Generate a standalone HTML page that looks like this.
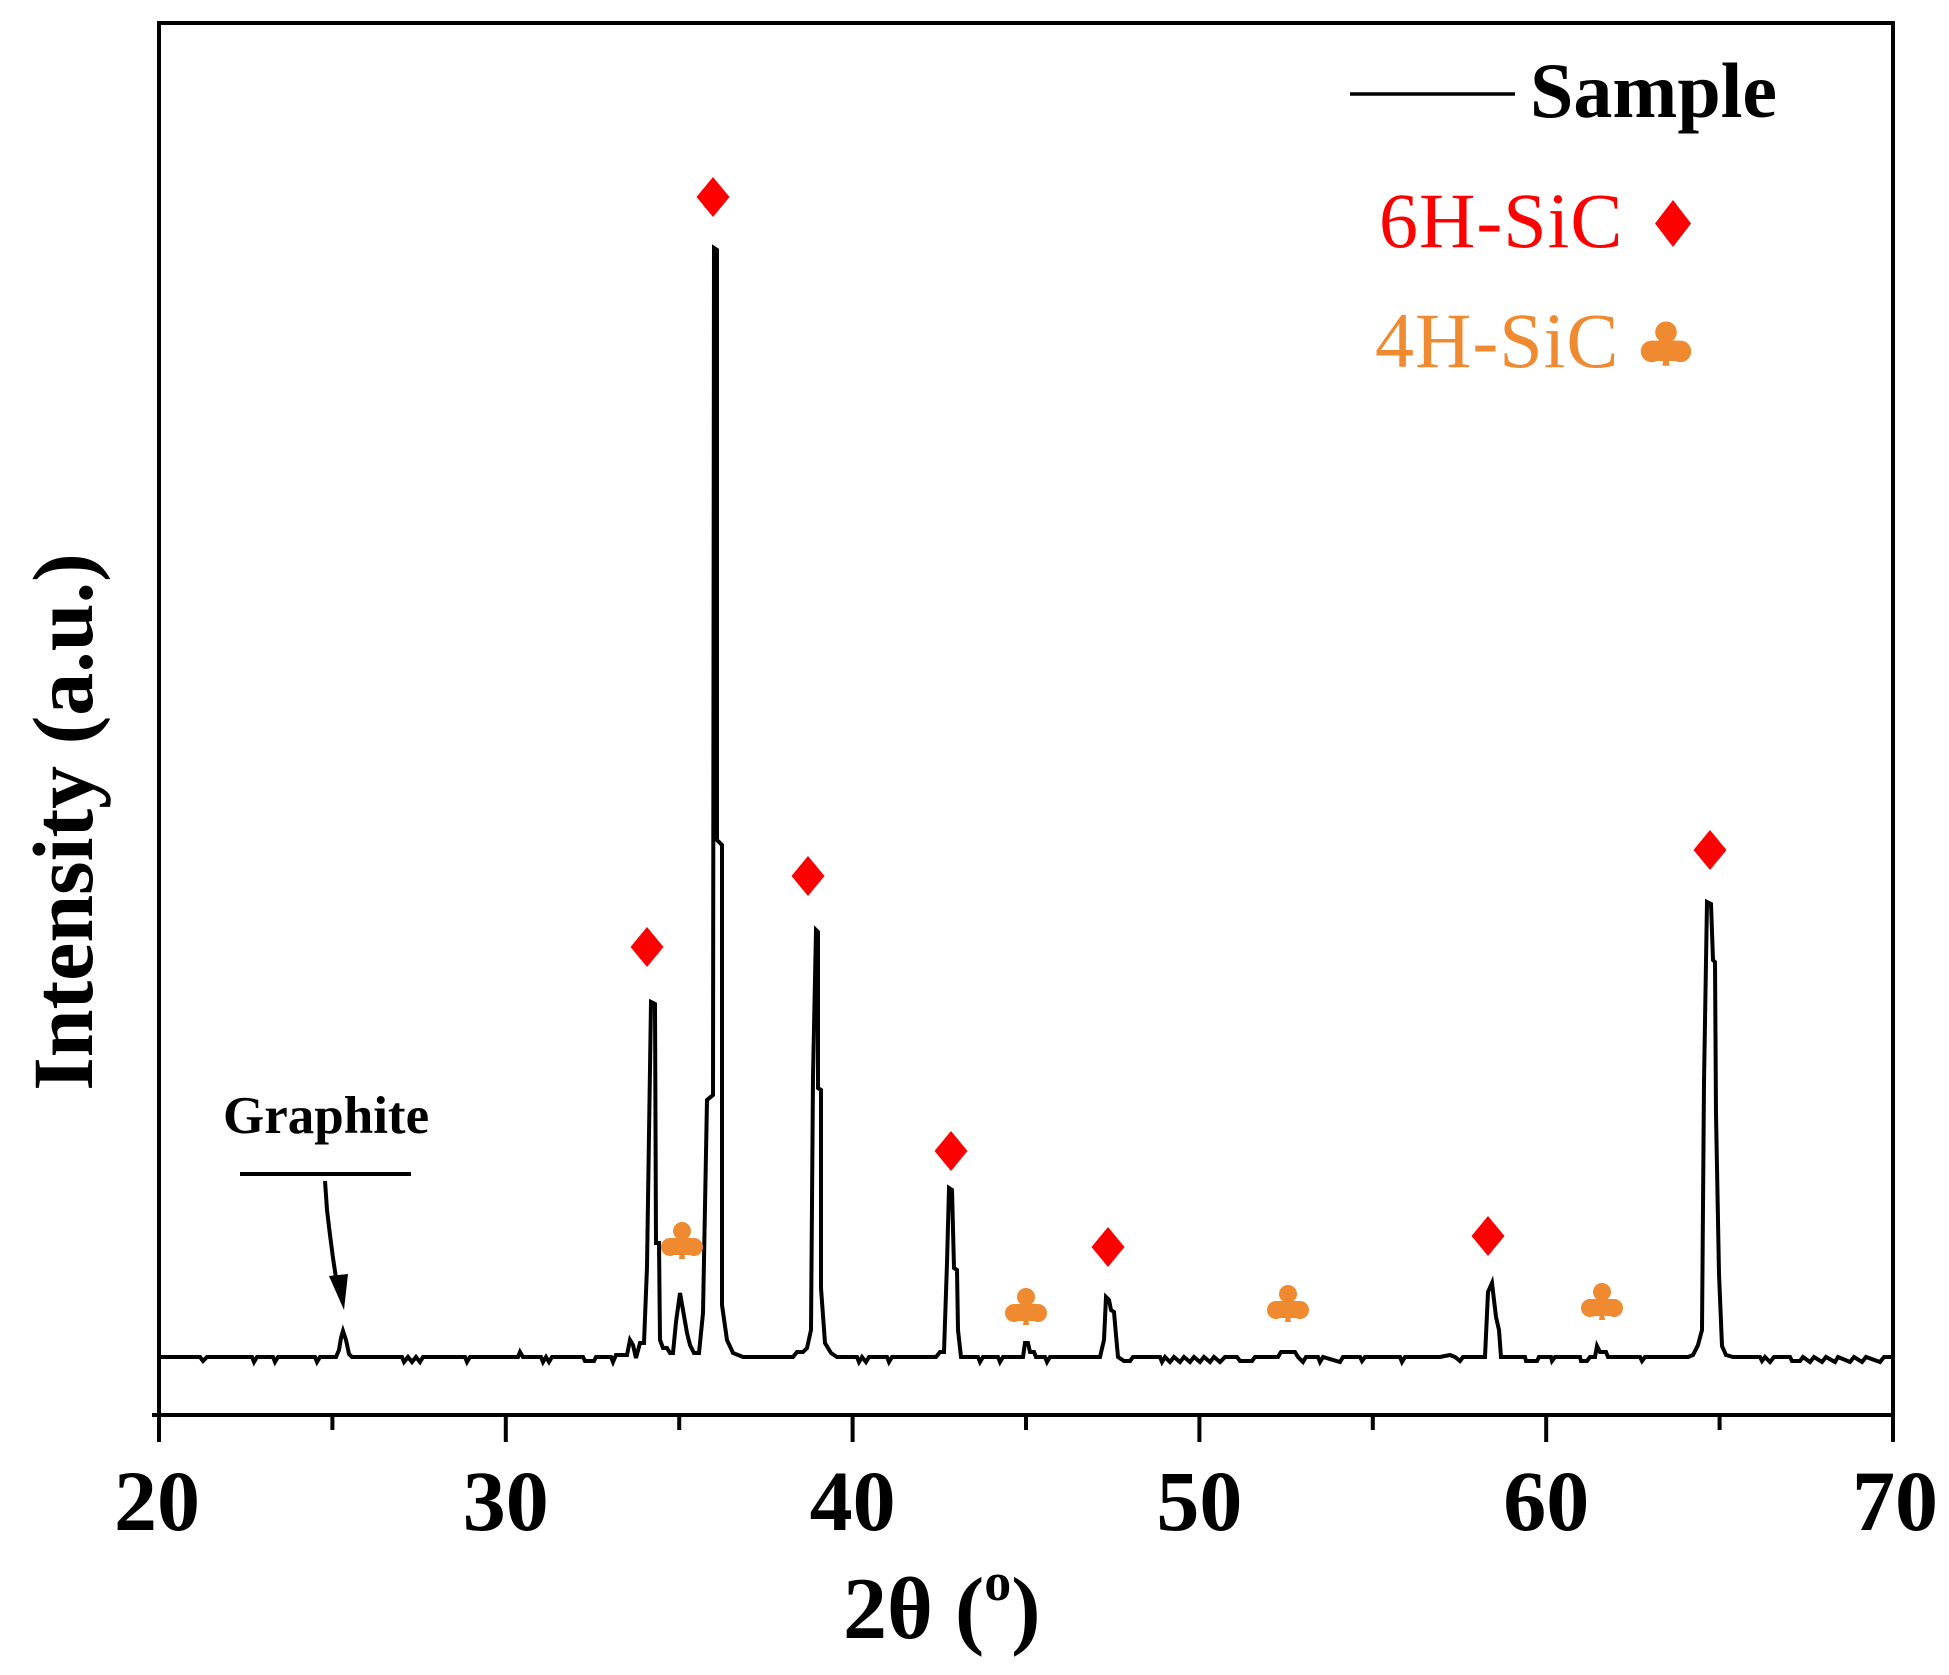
<!DOCTYPE html>
<html>
<head>
<meta charset="utf-8">
<style>
html,body{margin:0;padding:0;background:#fff;}
svg{display:block;}
</style>
</head>
<body>
<svg width="1949" height="1675" viewBox="0 0 1949 1675" xmlns="http://www.w3.org/2000/svg">
<rect x="0" y="0" width="1949" height="1675" fill="#fff"/>

<!-- Data -->
<polyline fill="none" stroke="#000" stroke-width="4" stroke-linejoin="miter" points="
161,1357 200,1357 203,1361 207,1357 252,1357 254,1362 257,1357 273,1357 275,1362 278,1357 315,1357 317,1362 320,1357
336,1357 339,1350 341,1338 343,1331 346,1340 349,1354 352,1357
402,1357 404,1362 408,1357 412,1362 416,1357 420,1362 423,1357 465,1357 467,1362 470,1357 518,1357 520,1352 523,1357
541,1357 543,1362 546,1357 549,1362 552,1357 583,1357 585,1361 594,1361 596,1357 611,1357 613,1362 616,1355 627,1355
630,1340 633,1345 636,1358 640,1343 644,1343 647,1267 651,1002 655,1004 656,1243 659,1243 660,1340 663,1348 667,1348
670,1353 673,1353 676,1322 680,1293 683,1310 687,1333 690,1345 694,1353 699,1353 703,1313 707,1100 713,1095 714,248 717,250
717,840 722,845 722,1305 727,1340 733,1353 743,1357 793,1357 797,1352 803,1352 807,1348 811,1330 813,1077 816,930 818,932
818,1088 821,1090 821,1288 825,1343 831,1353 837,1357 857,1357 859,1362 862,1357 866,1362 869,1357 887,1357 889,1362 892,1357 936,1357
940,1352 944,1352 947,1263 949,1188 952,1190 954,1268 957,1270 958,1330 961,1357 978,1357 980,1362 983,1357 998,1357 1000,1362 1003,1357
1023,1357 1025,1343 1028,1343 1030,1352 1034,1352 1036,1357 1045,1357 1047,1362 1050,1357
1100,1357 1104,1340 1106,1297 1109,1300 1111,1310 1114,1312 1116,1335 1118,1357 1124,1361 1130,1361 1133,1357
1160,1357 1162,1362 1165,1357 1170,1362 1174,1357 1180,1362 1184,1357 1190,1362 1194,1357 1200,1362 1204,1357
1210,1362 1214,1357 1220,1362 1225,1357 1237,1357 1240,1361 1252,1361 1255,1357 1278,1357 1281,1352 1295,1352
1298,1357 1303,1362 1306,1357 1318,1357 1320,1362 1323,1357 1340,1362 1343,1357 1360,1357 1362,1361 1365,1357
1400,1357 1402,1362 1405,1357 1440,1357 1450,1355 1455,1357 1460,1361 1463,1357 1485,1357 1488,1292 1492,1283
1494,1300 1496,1317 1499,1330 1501,1357 1525,1357 1526,1361 1537,1361 1539,1357 1551,1357 1552,1361 1555,1357 1580,1357
1581,1361 1587,1361 1590,1357 1595,1357 1597,1346 1600,1352 1606,1352 1608,1357 1640,1357 1642,1361 1645,1357
1688,1357 1693,1355 1698,1345 1702,1330 1704,1082 1707,902 1711,904 1713,960 1715,962 1716,1114 1719,1274 1722,1346 1726,1355
1733,1357 1760,1357 1762,1361 1765,1357 1770,1362 1774,1357 1790,1357 1792,1361 1800,1361 1803,1357 1810,1362
1814,1357 1822,1362 1826,1357 1835,1362 1838,1357 1850,1362 1854,1357 1862,1362 1866,1357 1880,1362 1884,1357 1891,1357"/>

<!-- Axes frame -->
<rect x="159" y="23" width="1734" height="1392" fill="none" stroke="#000" stroke-width="4"/>

<!-- Ticks -->
<g stroke="#000" stroke-width="4">
  <line x1="159" y1="1415" x2="159" y2="1442"/>
  <line x1="505.8" y1="1415" x2="505.8" y2="1442"/>
  <line x1="852.6" y1="1415" x2="852.6" y2="1442"/>
  <line x1="1199.4" y1="1415" x2="1199.4" y2="1442"/>
  <line x1="1546.2" y1="1415" x2="1546.2" y2="1442"/>
  <line x1="1893" y1="1415" x2="1893" y2="1442"/>
  <line x1="332.4" y1="1415" x2="332.4" y2="1430"/>
  <line x1="679.2" y1="1415" x2="679.2" y2="1430"/>
  <line x1="1026" y1="1415" x2="1026" y2="1430"/>
  <line x1="1372.8" y1="1415" x2="1372.8" y2="1430"/>
  <line x1="1719.6" y1="1415" x2="1719.6" y2="1430"/>
  <line x1="152" y1="1415" x2="159" y2="1415"/>
</g>

<!-- Tick labels -->
<g font-family="'Liberation Serif', serif" font-weight="bold" font-size="86" text-anchor="middle" fill="#000">
  <text x="157" y="1530">20</text>
  <text x="505.8" y="1530">30</text>
  <text x="852.6" y="1530">40</text>
  <text x="1199.4" y="1530">50</text>
  <text x="1546.2" y="1530">60</text>
  <text x="1895" y="1530">70</text>
</g>

<!-- Axis titles -->
<text x="843" y="1638" font-family="'Liberation Serif', serif" font-weight="bold" font-size="88" fill="#000">2θ (<tspan font-size="54" dy="-38">o</tspan><tspan dy="38">)</tspan></text>
<text transform="translate(92,822) rotate(-90)" text-anchor="middle" font-family="'Liberation Serif', serif" font-weight="bold" font-size="86" fill="#000">Intensity (a.u.)</text>

<!-- Graphite annotation -->
<text x="223" y="1133" font-family="'Liberation Serif', serif" font-weight="bold" font-size="53" fill="#000">Graphite</text>
<line x1="240" y1="1174" x2="411" y2="1174" stroke="#000" stroke-width="4"/>
<polyline fill="none" stroke="#000" stroke-width="4" points="325,1181 327,1210 330,1235 333,1258 336,1278"/>
<polygon points="329,1276 348,1274 344,1310" fill="#000"/>

<!-- Diamonds -->
<g fill="#ff0000">
  <polygon points="647,927 663.5,947 647,967 630.5,947"/>
  <polygon points="713,177 729.5,197 713,217 696.5,197"/>
  <polygon points="808,856 824.5,876 808,896 791.5,876"/>
  <polygon points="951,1131 967.5,1151 951,1171 934.5,1151"/>
  <polygon points="1108,1227 1124.5,1247 1108,1267 1091.5,1247"/>
  <polygon points="1488,1216 1504.5,1236 1488,1256 1471.5,1236"/>
  <polygon points="1710,830 1726.5,850 1710,870 1693.5,850"/>
  <polygon points="1673,200 1691,223.5 1673,247 1655,223.5"/>
</g>

<!-- Clubs -->
<defs>
  <g id="club">
    <circle cx="0" cy="-9" r="9"/>
    <circle cx="-12" cy="7" r="9"/>
    <circle cx="12" cy="7" r="9"/>
    <rect x="-12" y="-2" width="24" height="17"/>
    <polygon points="-2,12 2,12 3,19 -3,19"/>
  </g>
</defs>
<g fill="#ef8a31">
  <use href="#club" x="682" y="1240"/>
  <use href="#club" x="1026" y="1306"/>
  <use href="#club" x="1288" y="1303"/>
  <use href="#club" x="1602" y="1301"/>
  <g transform="translate(1666,343) scale(1.2)">
    <circle cx="0" cy="-9" r="9"/>
    <circle cx="-12" cy="7" r="9"/>
    <circle cx="12" cy="7" r="9"/>
    <rect x="-12" y="-2" width="24" height="17"/>
    <polygon points="-2,12 2,12 3,19 -3,19"/>
  </g>
</g>

<!-- Legend -->
<line x1="1350" y1="94" x2="1515" y2="94" stroke="#000" stroke-width="3.5"/>
<text x="1530" y="117" font-family="'Liberation Serif', serif" font-weight="bold" font-size="78" fill="#000">Sample</text>
<text x="1379" y="247" font-family="'Liberation Serif', serif" font-size="78" letter-spacing="1" fill="#ff0000">6H-SiC</text>
<text x="1375" y="367" font-family="'Liberation Serif', serif" font-size="78" letter-spacing="1" fill="#ef8a31">4H-SiC</text>
</svg>
</body>
</html>
